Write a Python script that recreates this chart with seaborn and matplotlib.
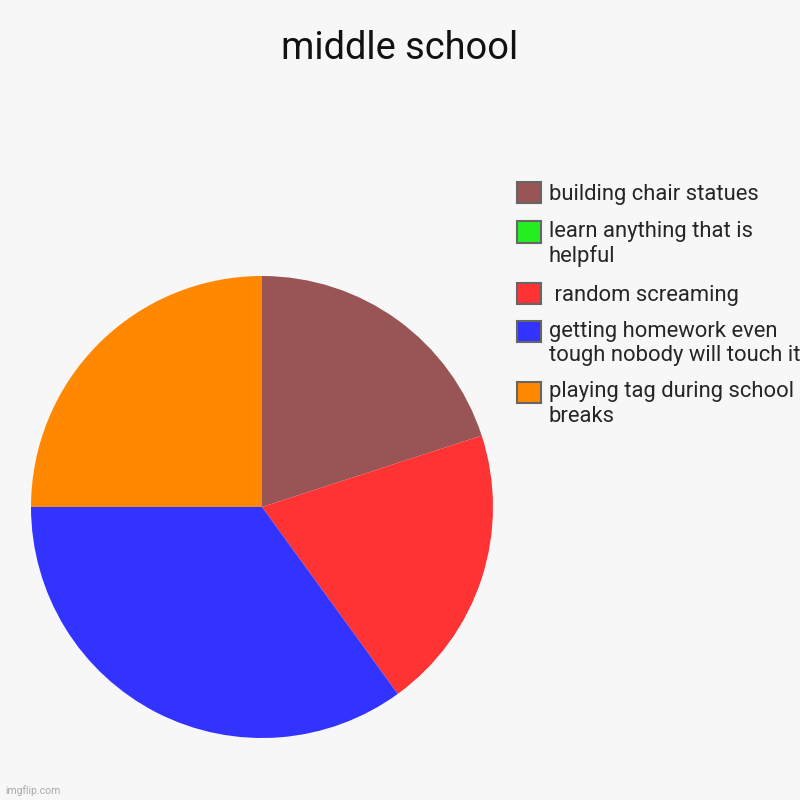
import matplotlib.pyplot as plt
import seaborn as sns
from matplotlib.patches import Patch, Rectangle
from matplotlib.legend_handler import HandlerPatch

sns.set_theme(style="white")
plt.rcParams['font.family'] = ['Roboto', 'DejaVu Sans']

# slices in drawing order (clockwise from 12 o'clock)
labels = ['building chair statues', 'learn anything that is\nhelpful', ' random screaming',
          'getting homework even\ntough nobody will touch it',
          'playing tag during school\nbreaks']
values = [20, 0, 20, 35, 25]
colors = ['#995555', '#22ee22', '#ff3333', '#3333ff', '#ff8800']
bg = '#f7f7f7'

fig = plt.figure(figsize=(8, 8), dpi=100, facecolor=bg)
ax = fig.add_axes([0.03875, 0.0775, 0.5775, 0.5775])
ax.set_facecolor(bg)
ax.pie(values, colors=colors, startangle=90, counterclock=False,
       wedgeprops={'linewidth': 0})
ax.set_xlim(-1, 1)
ax.set_ylim(-1, 1)
ax.set_aspect('equal')
ax.axis('off')

fig.suptitle('middle school', y=0.962, fontsize=27.4, color='#111111')


# keep the swatch next to the first line for wrapped labels
def top_swatch(legend, orig_handle, xdescent, ydescent, width, height, fontsize):
    return Rectangle((-xdescent, -ydescent + 0.57 * fontsize), width, height)


handles = [Patch(facecolor=c, edgecolor='#666666', linewidth=1.5) for c in colors]
hmap = {h: HandlerPatch(patch_func=top_swatch)
        for h, lab in zip(handles, labels) if '\n' in lab}
leg = fig.legend(handles, labels, loc='upper left', bbox_to_anchor=(0.646, 0.772),
                 frameon=False, fontsize=15.8, handlelength=1.1, handleheight=1.1,
                 handletextpad=0.36, labelspacing=0.7, borderaxespad=0,
                 borderpad=0, handler_map=hmap)

fig.text(0.006, 0.008, 'imgflip.com', fontsize=7.5, color='#aaaaaa')

plt.savefig('out.png', dpi=100, facecolor=bg)
